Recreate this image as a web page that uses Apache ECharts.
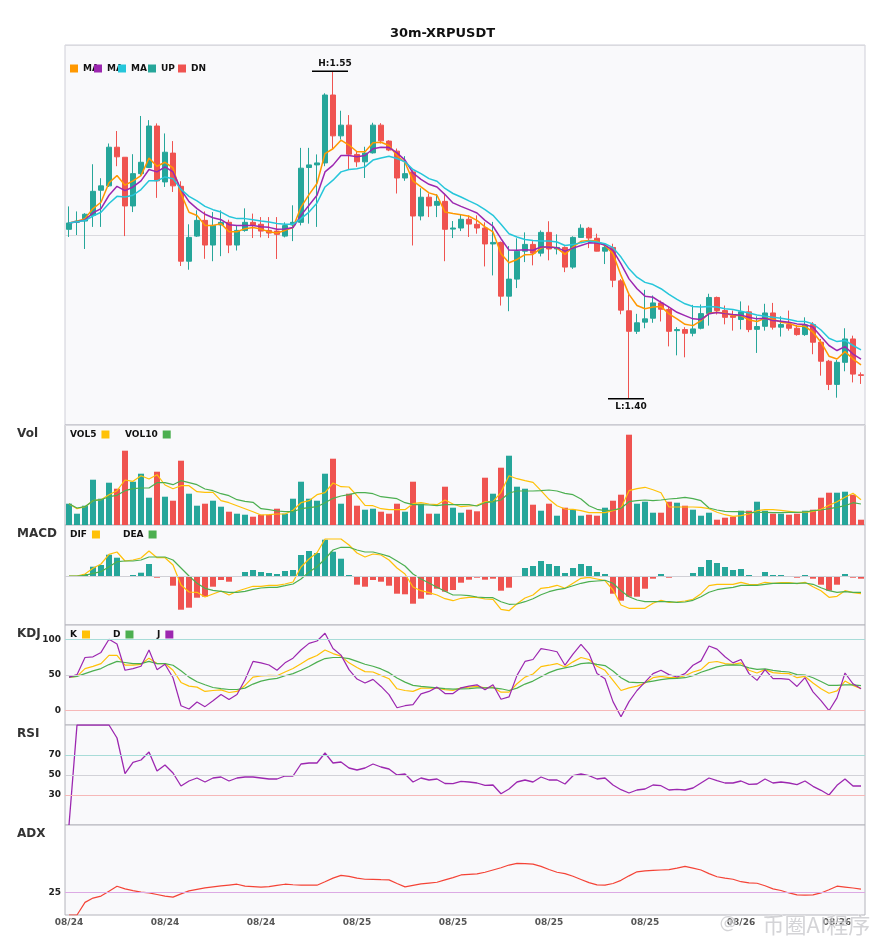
<!DOCTYPE html>
<html>
<head>
<meta charset="utf-8">
<script src="https://cdn.jsdelivr.net/npm/echarts@6.0.0/dist/echarts.min.js"></script>
<style>
html,body{margin:0;padding:0;background:#fff;}
#chart{width:885px;height:950px;}
</style>
</head>
<body>
<div id="chart"></div>
<script>
// ---- data ----
const symbolTitle = '30m-XRPUSDT';
const startTime = Date.UTC(2025, 7, 24, 7, 0); // first 30m bar
const barMinutes = 30;

const opens = [1.4776,1.4808,1.4814,1.4840,1.4955,1.4975,1.5152,1.5106,1.4883,1.5031,
1.5059,1.5249,1.4993,1.5125,1.4973,1.4630,1.4745,1.4817,1.4704,1.4796,
1.4808,1.4704,1.4771,1.4808,1.4799,1.4771,1.4768,1.4745,1.4796,1.4808,
1.5059,1.5071,1.5080,1.5391,1.5204,1.5253,1.5119,1.5085,1.5126,1.5253,
1.5180,1.5134,1.5011,1.5039,1.4837,1.4923,1.4886,1.4904,1.4777,1.4782,
1.4822,1.4799,1.4782,1.4709,1.4716,1.4470,1.4548,1.4676,1.4707,1.4667,
1.4762,1.4686,1.4693,1.4603,1.4739,1.4781,1.4735,1.4676,1.4693,1.4540,
1.4403,1.4309,1.4351,1.4369,1.4439,1.4409,1.4312,1.4317,1.4300,1.4323,
1.4390,1.4464,1.4404,1.4380,1.4363,1.4398,1.4318,1.4332,1.4393,1.4328,
1.4340,1.4323,1.4294,1.4340,1.4259,1.4172,1.4066,1.4167,1.4274,1.4110];

const closes = [1.4805,1.4814,1.4845,1.4950,1.4975,1.5152,1.5108,1.4883,1.5031,1.5083,
1.5249,1.4998,1.5129,1.4975,1.4630,1.4739,1.4817,1.4704,1.4794,1.4808,
1.4704,1.4771,1.4808,1.4796,1.4768,1.4759,1.4753,1.4793,1.4808,1.5056,
1.5071,1.5080,1.5391,1.5204,1.5253,1.5120,1.5085,1.5125,1.5253,1.5181,
1.5139,1.5011,1.5031,1.4837,1.4923,1.4883,1.4904,1.4776,1.4782,1.4822,
1.4800,1.4782,1.4709,1.4716,1.4470,1.4548,1.4676,1.4707,1.4667,1.4762,
1.4686,1.4693,1.4603,1.4739,1.4781,1.4736,1.4676,1.4693,1.4543,1.4406,
1.4309,1.4348,1.4366,1.4439,1.4410,1.4309,1.4317,1.4300,1.4320,1.4390,
1.4464,1.4404,1.4373,1.4373,1.4398,1.4317,1.4331,1.4393,1.4328,1.4340,
1.4323,1.4294,1.4338,1.4259,1.4172,1.4066,1.4167,1.4274,1.4113,1.4107];

const highs = [1.4881,1.4858,1.4850,1.5074,1.5010,1.5169,1.5226,1.5106,1.5120,1.5295,
1.5276,1.5261,1.5215,1.5180,1.4996,1.4799,1.4863,1.4858,1.4855,1.4863,
1.4820,1.4791,1.4872,1.4848,1.4832,1.4832,1.4832,1.4808,1.4886,1.5149,
1.5149,1.5119,1.5399,1.5500,1.5319,1.5299,1.5131,1.5154,1.5264,1.5262,
1.5184,1.5146,1.5111,1.5047,1.4964,1.4940,1.4937,1.4940,1.4814,1.4845,
1.4840,1.4840,1.4808,1.4810,1.4720,1.4699,1.4735,1.4762,1.4722,1.4771,
1.4813,1.4753,1.4698,1.4744,1.4799,1.4787,1.4756,1.4710,1.4710,1.4548,
1.4478,1.4389,1.4499,1.4473,1.4450,1.4423,1.4328,1.4328,1.4430,1.4432,
1.4481,1.4468,1.4427,1.4404,1.4446,1.4427,1.4378,1.4435,1.4439,1.4378,
1.4404,1.4338,1.4373,1.4351,1.4274,1.4178,1.4178,1.4323,1.4289,1.4121];

const lows = [1.4741,1.4750,1.4686,1.4787,1.4787,1.4970,1.5065,1.4745,1.4855,1.5020,
1.5059,1.4920,1.4970,1.4947,1.4608,1.4591,1.4741,1.4641,1.4630,1.4653,
1.4667,1.4679,1.4765,1.4736,1.4739,1.4736,1.4640,1.4739,1.4722,1.4794,
1.4802,1.4787,1.5065,1.5146,1.5187,1.5050,1.5062,1.5011,1.5123,1.5169,
1.5134,1.4940,1.4998,1.4702,1.4817,1.4832,1.4832,1.4630,1.4736,1.4768,
1.4741,1.4756,1.4606,1.4565,1.4427,1.4401,1.4507,1.4626,1.4611,1.4652,
1.4634,1.4661,1.4580,1.4595,1.4738,1.4690,1.4675,1.4617,1.4511,1.4387,
1.4000,1.4297,1.4323,1.4348,1.4354,1.4240,1.4199,1.4190,1.4286,1.4318,
1.4335,1.4386,1.4341,1.4312,1.4318,1.4305,1.4210,1.4312,1.4317,1.4285,
1.4312,1.4289,1.4288,1.4204,1.4106,1.4040,1.4005,1.4126,1.4075,1.4068];

const ma5 = [1.4805,1.4813,1.4825,1.4871,1.4900,1.4989,1.5022,1.4978,1.4998,1.5022,
1.5102,1.5065,1.5083,1.5057,1.4940,1.4854,1.4839,1.4794,1.4794,1.4802,
1.4765,1.4765,1.4779,1.4784,1.4777,1.4765,1.4759,1.4771,1.4784,1.4878,
1.4935,1.4986,1.5123,1.5145,1.5184,1.5162,1.5131,1.5131,1.5172,1.5175,
1.5160,1.5114,1.5082,1.4998,1.4970,1.4943,1.4932,1.4855,1.4848,1.4843,
1.4836,1.4817,1.4787,1.4764,1.4664,1.4623,1.4638,1.4660,1.4661,1.4690,
1.4699,1.4690,1.4661,1.4695,1.4721,1.4725,1.4722,1.4702,1.4664,1.4565,
1.4478,1.4427,1.4412,1.4420,1.4423,1.4389,1.4366,1.4341,1.4335,1.4358,
1.4392,1.4396,1.4392,1.4381,1.4381,1.4361,1.4354,1.4369,1.4364,1.4351,
1.4346,1.4332,1.4332,1.4305,1.4259,1.4195,1.4182,1.4216,1.4182,1.4155];

const ma10 = [1.4805,1.4811,1.4819,1.4851,1.4871,1.4932,1.4973,1.4953,1.4970,1.4998,
1.5050,1.5039,1.5062,1.5039,1.4958,1.4903,1.4871,1.4845,1.4829,1.4820,
1.4797,1.4793,1.4793,1.4793,1.4788,1.4785,1.4776,1.4777,1.4784,1.4840,
1.4886,1.4932,1.5039,1.5070,1.5114,1.5114,1.5108,1.5114,1.5145,1.5152,
1.5151,1.5126,1.5093,1.5034,1.5005,1.4982,1.4970,1.4935,1.4897,1.4881,
1.4866,1.4851,1.4817,1.4790,1.4733,1.4681,1.4680,1.4683,1.4680,1.4695,
1.4695,1.4692,1.4676,1.4690,1.4702,1.4714,1.4713,1.4704,1.4680,1.4618,
1.4549,1.4504,1.4470,1.4465,1.4442,1.4420,1.4396,1.4381,1.4366,1.4363,
1.4389,1.4395,1.4390,1.4386,1.4383,1.4373,1.4366,1.4369,1.4358,1.4355,
1.4351,1.4343,1.4340,1.4328,1.4285,1.4244,1.4221,1.4239,1.4205,1.4182];

const ma20 = [1.4805,1.4811,1.4816,1.4837,1.4854,1.4894,1.4927,1.4924,1.4932,1.4958,
1.4998,1.4998,1.5016,1.5008,1.4959,1.4927,1.4906,1.4881,1.4866,1.4855,
1.4835,1.4825,1.4825,1.4820,1.4814,1.4809,1.4803,1.4799,1.4799,1.4825,
1.4855,1.4897,1.4970,1.5001,1.5039,1.5050,1.5053,1.5062,1.5093,1.5103,
1.5111,1.5100,1.5085,1.5050,1.5031,1.5008,1.4996,1.4963,1.4940,1.4924,
1.4906,1.4889,1.4866,1.4840,1.4799,1.4756,1.4741,1.4729,1.4725,1.4722,
1.4722,1.4718,1.4702,1.4706,1.4715,1.4722,1.4718,1.4710,1.4692,1.4649,
1.4595,1.4557,1.4533,1.4523,1.4504,1.4478,1.4455,1.4435,1.4423,1.4420,
1.4423,1.4420,1.4412,1.4409,1.4401,1.4393,1.4384,1.4378,1.4373,1.4369,
1.4363,1.4355,1.4354,1.4343,1.4315,1.4277,1.4262,1.4267,1.4244,1.4224];

// volume (thousand units)
const volumes = [21.3,11.3,19.3,45.3,26.3,42.3,36.3,74.3,43.3,51.3,
27.3,53.3,28.3,24.3,64.3,31.3,19.3,21.3,24.3,18.3,
13.3,11.3,10.3,8.3,10.3,10.3,16.3,11.3,26.3,43.3,
26.3,24.3,51.3,66.3,21.3,31.3,19.3,15.3,16.3,13.3,
11.3,21.3,13.3,43.3,21.3,11.3,11.3,38.3,17.3,12.3,
15.3,13.7,47.3,31.3,57.3,69.3,38.3,36.3,20.3,14.3,
21.3,9.3,17.3,15.3,9.3,10.3,9.3,17.3,24.3,30.3,
90.3,21.3,23.3,12.3,12.3,23.3,22.3,19.3,15.3,9.3,
12.3,5.3,7.3,8.3,14.3,14.3,23.3,14.3,11.3,11.3,
10.3,11.3,14.3,15.3,27.3,32.3,32.3,33.3,30.3,5.3];

const vol5 = [21.3,16.3,18.3,24.3,25.3,30.3,34.3,45,43.7,49.3,
46,50.3,40,36.3,39.3,39.3,33.3,32.7,32.7,24.3,
22.3,19.3,16.3,13.3,10,10.3,11,11,14.7,22.3,
24.3,30.3,32.3,42,38.3,38,29.3,19.7,19.3,16.3,
15.3,15.3,15.3,21.3,22.3,21,20.3,25,21,18.3,
19,19.7,23.3,23.3,32.7,49.3,46.3,44.3,42.7,34.3,
25.7,19.3,16,15.7,14.3,12.3,12.3,12.3,14.3,16.7,
34.3,36.3,37.7,35.3,32.3,18,18,18,18,17.7,
16.3,12.7,10.3,8.7,9.3,11,14.3,15.3,15.3,14.7,
13.7,12.7,12.7,13.7,15.7,19.7,23.3,27.7,31.7,25.3];

const vol10 = [21.3,17,18.3,24.3,25.3,28.3,29.7,34.3,36.3,37,
37,42.3,42.3,40.3,44.3,42.3,40.3,36,34.3,31.3,
29.3,25.3,23.7,22.7,16.3,15.3,14,13.3,13.3,16.3,
17.3,18.3,22.3,26.7,29,30.3,32.3,32.3,31.3,28.3,
27.3,26.3,22.3,20.3,20.3,20,19.3,20.3,20.3,20.3,
20.3,19,22.3,23.3,25,32,34,34,34,34.3,
35,34,31.7,30.3,26,19.3,15.7,14.3,15,16.7,
23.3,24.3,25,24.3,25,26,26.7,27.7,26.3,24.3,
17,15,13.7,13.3,13.3,12.3,12.7,12.7,12.3,12.3,
12.7,12.7,13,14.3,15,16.3,17.7,19.3,22.3,21];

// MACD values in units of 1e-4
const macdHist = [0,0,2,9.3,11,21.3,18.3,0,1,3.3,
12,-1.7,-1,-9.7,-33.7,-31.7,-21.7,-20.7,-10.7,-4,
-5.7,-1,4,6,4,3,2,5,6,21,
25,23,36.3,24.3,17.3,1,-8.7,-10.7,-4,-5.7,
-9.7,-17.7,-18.3,-27.7,-22.7,-18.7,-12.7,-15.7,-14,-6.7,
-3.7,-1.7,-3.7,-2.7,-14.7,-11.7,0,8,10,15,
12,10,3,8,12,10,4,2,-17.7,-24.7,
-20.7,-20.7,-12.7,-2.7,2,-1.7,-1,0,3,9,
16,13,9,6,7,1,0,4,1,1,
0,-1.7,1,-2.7,-8.7,-14.7,-8.7,2,-1.7,-2.7];

const macdDif = [0,0,2,7.7,12,21.7,24,15,16,18,
25,18.3,18.3,11,-9,-16,-16.3,-21,-18,-15,
-19,-15.3,-12.7,-10.3,-10.3,-9.3,-9.3,-8,-6,9,
17,23.3,37,37,37,31,23,19,22,21,
16,8,2,-11,-14.7,-16.7,-19,-22.7,-24.7,-22.3,
-21.3,-21.3,-23,-23.3,-33.3,-34.7,-27.7,-22,-19,-12.3,
-11.3,-9.3,-12.3,-7.3,-2.3,-1.3,-3,-4.7,-14,-29,
-32.3,-32.3,-32.3,-27.3,-24.3,-26.3,-26,-25,-23.3,-17.7,
-9.7,-8.3,-8.3,-8.3,-6.3,-8.3,-8.7,-6.3,-7.3,-6.7,
-6.7,-7.7,-6.3,-10.7,-14.7,-21.3,-20.3,-14.7,-16.7,-17.7];

const macdDea = [0,0,0.7,2.7,4.3,9.3,14.3,15,15,16,
19,19,19,16,8,0,-7.3,-12.3,-14.3,-15.3,
-16.3,-16.3,-15.3,-13.3,-12,-11.3,-11.3,-9.7,-8,-3,
4,9.3,17,26,28.7,28.7,26,24,24,22,
19.7,15,10,2,-3,-7,-11.3,-15.3,-19,-19,
-19.7,-21,-21.7,-21.7,-25.7,-28.3,-28,-25.7,-22.7,-18.7,
-15.7,-13.7,-12.3,-9.7,-7.3,-5.7,-5,-4.3,-7.3,-14.7,
-20.7,-24,-25.7,-25.7,-25.7,-25.7,-26.3,-26,-24.3,-20.7,
-16.3,-13.7,-12.3,-11.3,-9.3,-9.3,-9.3,-8.3,-7.3,-7.3,
-7.3,-7.3,-7,-8.3,-11.7,-14.7,-16.3,-15.7,-16.3,-16.3];

const kdjK = [47,48,59,62,66,77.4,77.4,63.7,63.7,65,
73.6,66,66,56.6,39.6,34.4,33,27,28.3,29.2,
25.5,27,35.4,47,48.6,49.5,49,54.2,59,65.6,
72.6,77.4,85,80,76.4,67,60.4,54.7,54.2,49.5,
44.8,30.7,28.3,27,31.6,31.6,31.6,29.5,28.3,32,
33,34,32,33,26,26,37.7,47,51.4,61.8,
63.7,66,61.3,68.4,74.5,71.7,62.3,56.6,42.5,28.3,
32,34.4,38.7,46.2,48,46.2,46.2,49,54.2,57.5,
67.5,68.9,66,65,67,56.6,52.8,57.5,53.3,52.4,
51.9,46.2,48,38.7,30.7,24.5,27.8,41.5,35.4,31];

const kdjD = [47,48,52,55.7,59,64.6,69,67.5,66,66,
69,66,66,63.7,56,47,40.6,36.3,32.5,31,
29.7,29.7,31.6,37.3,41.5,43.9,45.3,49,52,56.6,
61.8,68,73,74.5,74.5,73,69,65,62.3,58.5,
53.3,45.8,40,35.4,34,33,32,31,30.2,30.7,
31,32,32,32,30.7,28.3,31.6,37.3,41.5,47.6,
53.3,57.5,59.9,62.3,66,67,65,63.2,55.7,46.2,
40,39.2,39.6,41.5,43.4,44.8,45.3,46.2,49,53.8,
57.5,61.3,63.7,64.2,63.7,59.9,58,58.5,56.6,55.2,
54.2,50.5,50,46.2,41,35.4,35.4,36.3,36.3,35];

const kdjJ = [47,50.5,74.5,75.5,81.6,100,93.4,56.6,59,62.3,
85,57.5,65,46.2,7,2.4,12.3,5.7,14,22.6,
15.6,22.6,43.4,69,67,64,56.6,67,73.6,85,
94.3,97.6,108.5,87,77.8,57.5,44.3,38.7,43.9,34,
22.6,4.2,7,8.5,23.6,27,33,24,24,32,
34.4,36.3,29.2,36.3,16,19.3,49.5,69,71.7,86.8,
85,82.5,63.7,79.2,93,80,52,44.8,12.7,-8.5,
12.7,28.3,40,51.9,56.6,50.5,47.2,51.9,63.7,69.8,
90.6,86.3,75.5,67,71.7,51.9,42.5,57.5,44.8,44.8,
43.9,34,46.2,26.4,14,0,17.9,52.8,37.7,30.7];

const rsi = [0,100,100,100,100,100,87,51.3,62.7,65,
73,54,60,52,39,44,47,43,47,48,
44,47,48,48,47,46,46,49,49,61,
62,62,72,62,63,57,55,57,61,58,
56,50,51,43,47,45,46,41.5,41.3,43.7,
43,42,39.7,40,31.3,36,43,45,43,48,
45,45,41,49.3,51,49.3,46,47,40,35.3,
32,35,36,40,39.3,35,35.7,35,37,42,
47,44.3,42,42,44,40.7,41,46,42,43,
42,40.3,44,38.7,34.7,30,39.7,46,39,39];

const adx = [0,0,14,18.8,21,26.5,32,29,27,25.5,
24.6,22.8,21,19.9,23.5,26.8,28.5,30.1,31.3,32.4,
33.3,34.2,32,31.5,31,31.5,33,34.2,33.6,33.1,
33.1,33.1,37,41,44.1,43,41,39.7,39.5,39.2,
39,35,31.2,33,34.5,35.5,36.4,39,41.5,44.5,
45.2,45.6,47.5,50,52.5,55.5,57.4,57,56.5,54,
50.5,47.5,46,43,39.5,36,33.5,33.1,35,38.5,
43.5,48,49,49.5,50,50.4,52,54,52,50,
46,42.5,41,39.7,37,35.6,35.3,32.5,29,27.2,
24.5,22.3,22,22.4,24.5,28,32,31,30,28.7];

const kdjLevels = [100, 50, 0];
const rsiLevels = [70, 50, 30];
const adxLevels = [25];

// ---- build ----
const UP = '#26a69a', DN = '#ef5350';
const pad2 = n => String(n).padStart(2, '0');
const categories = opens.map((_, i) => {
  const d = new Date(startTime + i * barMinutes * 60000);
  return pad2(d.getUTCMonth() + 1) + '/' + pad2(d.getUTCDate()) + ' ' + pad2(d.getUTCHours()) + ':' + pad2(d.getUTCMinutes());
});
const candleData = opens.map((o, i) => [o, closes[i], lows[i], highs[i]]);
const hiVal = Math.max(...highs), hiIdx = highs.indexOf(hiVal);
const loVal = Math.min(...lows), loIdx = lows.indexOf(loVal);
const span = hiVal - loVal;
// price axis: 8% padding on each side; one split line at the middle of the range
const priceMin = +(loVal - span * 0.08).toFixed(4);
const priceMax = +(hiVal + span * 0.08).toFixed(4);
const priceInterval = +((priceMax - priceMin) / 2).toFixed(4);
const volData = volumes.map((v, i) => ({ value: v, itemStyle: { color: closes[i] >= opens[i] ? UP : DN } }));
const macdData = macdHist.map(v => ({ value: v, itemStyle: { color: v >= 0 ? UP : DN } }));

const FONT = 'DejaVu Sans';
const gridTops = [45, 425, 525, 625, 725, 825];
const gridHeights = [380, 100, 100, 100, 100, 90];
const grids = gridTops.map((t, i) => ({
  left: 65, right: 20, top: t, height: gridHeights[i], show: true,
  backgroundColor: '#f9f9fb', borderColor: i === 0 ? '#cfcfd8' : '#b4b4bc', borderWidth: 1
}));
const xAxes = gridTops.map((_, i) => ({
  type: 'category', gridIndex: i, data: categories, boundaryGap: true,
  axisLine: { show: false }, axisTick: { show: false }, splitLine: { show: false },
  axisLabel: {
    show: i === 5, interval: 11, margin: 3, fontSize: 9, fontWeight: 'bold', color: '#555',
    fontFamily: FONT, formatter: v => v.slice(0, 5)
  }
}));
const hiddenY = (gi, min, max) => ({
  type: 'value', gridIndex: gi, min, max,
  axisLine: { show: false }, axisTick: { show: false }, splitLine: { show: false }, axisLabel: { show: false }
});
const labelY = (gi, min, max, vals) => ({
  type: 'value', gridIndex: gi, min, max,
  axisLine: { show: false }, axisTick: { show: false }, splitLine: { show: false },
  axisLabel: { show: true, customValues: vals, margin: 4, fontSize: 9, fontWeight: 'bold', color: '#222', fontFamily: FONT }
});
const levelColor = v => (v === 100 || v === 70) ? '#a8dcd8' : (v === 50 ? '#d2d2d8' : (v === 25 ? '#dcaae4' : '#f6b8b8'));
const levelLines = vals => ({
  silent: true, symbol: 'none', label: { show: false },
  lineStyle: { type: 'solid', width: 1 },
  data: vals.map(v => ({ yAxis: v, lineStyle: { color: levelColor(v), type: 'solid', width: 1 } }))
});
const line = (name, data, color, xi, width) => ({
  name, type: 'line', data, xAxisIndex: xi, yAxisIndex: xi, symbol: 'none', smooth: false,
  lineStyle: { color, width: width || 1.3 }, itemStyle: { color }
});

const legendText = { fontSize: 9, fontWeight: 'bold', color: '#111', fontFamily: FONT };
const leg = (name, left, top, opts) => Object.assign({
  data: [name], left, top, padding: 0, itemWidth: 8, itemHeight: 8, icon: 'rect',
  selectedMode: false, textStyle: Object.assign({}, legendText)
}, opts || {});
const maText = Object.assign({}, legendText, { width: 20, overflow: 'truncate', ellipsis: '' });

const panelTitle = (text, top) => ({
  text, left: 17, top, padding: 0,
  textStyle: { fontSize: 12, fontWeight: 'bold', color: '#333', fontFamily: FONT }
});

const option = {
  animation: false,
  backgroundColor: '#ffffff',
  textStyle: { fontFamily: FONT },
  title: [
    { text: symbolTitle, left: 'center', top: 27, padding: 0, textStyle: { fontSize: 13, fontWeight: 'bold', color: '#111', fontFamily: FONT } },
    panelTitle('Vol', 428), panelTitle('MACD', 528), panelTitle('KDJ', 628), panelTitle('RSI', 728), panelTitle('ADX', 828)
  ],
  legend: [
    leg('MA5', 70, 64, { textStyle: maText }),
    leg('MA10', 94, 64, { textStyle: maText }),
    leg('MA20', 118, 64, { textStyle: maText }),
    leg('UP', 148, 64),
    leg('DN', 178, 64),
    leg('VOL5', 70, 430, { align: 'right', textStyle: Object.assign({}, legendText, { width: 27 }) }),
    leg('VOL10', 125, 430, { align: 'right', textStyle: Object.assign({}, legendText, { width: 33 }) }),
    leg('DIF', 70, 530, { align: 'right', textStyle: Object.assign({}, legendText, { width: 22 }) }),
    leg('DEA', 123, 530, { align: 'right', textStyle: Object.assign({}, legendText, { width: 25 }) }),
    leg('K', 70, 630, { align: 'right', textStyle: Object.assign({}, legendText, { width: 12 }) }),
    leg('D', 113, 630, { align: 'right', textStyle: Object.assign({}, legendText, { width: 13 }) }),
    leg('J', 157, 630, { align: 'right', textStyle: Object.assign({}, legendText, { width: 13 }) })
  ],
  grid: grids,
  xAxis: xAxes,
  yAxis: [
    {
      type: 'value', gridIndex: 0, min: priceMin, max: priceMax, interval: priceInterval,
      axisLine: { show: false }, axisTick: { show: false }, axisLabel: { show: false },
      splitLine: { show: true, lineStyle: { color: '#dadadf', width: 1, type: 'solid' } }
    },
    hiddenY(1, 0, 100),
    hiddenY(2, -49, 51),
    labelY(3, -20, 120, kdjLevels),
    labelY(4, 0, 100, rsiLevels),
    labelY(5, 0, 100, adxLevels)
  ],
  graphic: [
    { type: 'text', left: 719, top: 915, silent: true, z: 100,
      style: { text: '@', fontSize: 17, fontFamily: 'DejaVu Sans', fill: 'rgba(170,170,175,0.5)', stroke: 'rgba(255,255,255,0.6)', lineWidth: 1 } },
    { type: 'text', left: 762, top: 913, silent: true, z: 100,
      style: { text: '币圈AI程序', fontSize: 22, fontFamily: 'Noto Sans CJK SC', fill: 'rgba(170,170,175,0.5)', stroke: 'rgba(255,255,255,0.6)', lineWidth: 1 } }
  ],
  series: [
    {
      name: 'Candle', type: 'candlestick', data: candleData, xAxisIndex: 0, yAxisIndex: 0, barWidth: 6,
      itemStyle: { color: UP, color0: DN, borderColor: UP, borderColor0: DN, borderWidth: 1 },
      markPoint: {
        silent: true,
        data: [
          { coord: [hiIdx, hiVal], symbol: 'rect', symbolSize: [36, 1.5], symbolOffset: [-3, 0], itemStyle: { color: '#000' },
            label: { show: true, position: 'top', distance: 2, offset: [5, 0], formatter: 'H:' + hiVal.toFixed(2), color: '#111', fontSize: 9, fontWeight: 'bold', fontFamily: FONT } },
          { coord: [loIdx, loVal], symbol: 'rect', symbolSize: [36, 1.5], symbolOffset: [-3, 0], itemStyle: { color: '#000' },
            label: { show: true, position: 'bottom', distance: 3, offset: [5, 0], formatter: 'L:' + loVal.toFixed(2), color: '#111', fontSize: 9, fontWeight: 'bold', fontFamily: FONT } }
        ]
      }
    },
    line('MA5', ma5, '#ff9800', 0, 1.5),
    line('MA10', ma10, '#9c27b0', 0, 1.5),
    line('MA20', ma20, '#26c6da', 0, 1.5),
    { name: 'UP', type: 'line', data: [], xAxisIndex: 0, yAxisIndex: 0, itemStyle: { color: UP }, lineStyle: { color: UP } },
    { name: 'DN', type: 'line', data: [], xAxisIndex: 0, yAxisIndex: 0, itemStyle: { color: DN }, lineStyle: { color: DN } },
    { name: 'Volume', type: 'bar', data: volData, xAxisIndex: 1, yAxisIndex: 1, barWidth: 6 },
    line('VOL5', vol5, '#ffc107', 1, 1.2),
    line('VOL10', vol10, '#4caf50', 1, 1.2),
    { name: 'MACD', type: 'bar', data: macdData, xAxisIndex: 2, yAxisIndex: 2, barWidth: 6,
      markLine: { silent: true, symbol: 'none', label: { show: false }, data: [{ yAxis: 0, lineStyle: { color: '#d0d0d6', width: 1, type: 'solid' } }] } },
    line('DIF', macdDif, '#ffc107', 2, 1.2),
    line('DEA', macdDea, '#4caf50', 2, 1.2),
    Object.assign(line('K', kdjK, '#ffc107', 3, 1.2), { markLine: levelLines(kdjLevels) }),
    line('D', kdjD, '#4caf50', 3, 1.2),
    line('J', kdjJ, '#9c27b0', 3, 1.2),
    Object.assign(line('RSI', rsi, '#9c27b0', 4, 1.3), { markLine: levelLines(rsiLevels) }),
    Object.assign(line('ADX', adx, '#f44336', 5, 1.2), { markLine: levelLines(adxLevels) })
  ]
};

const chart = echarts.init(document.getElementById('chart'), null, { renderer: 'canvas' });
chart.setOption(option);
</script>
</body>
</html>
